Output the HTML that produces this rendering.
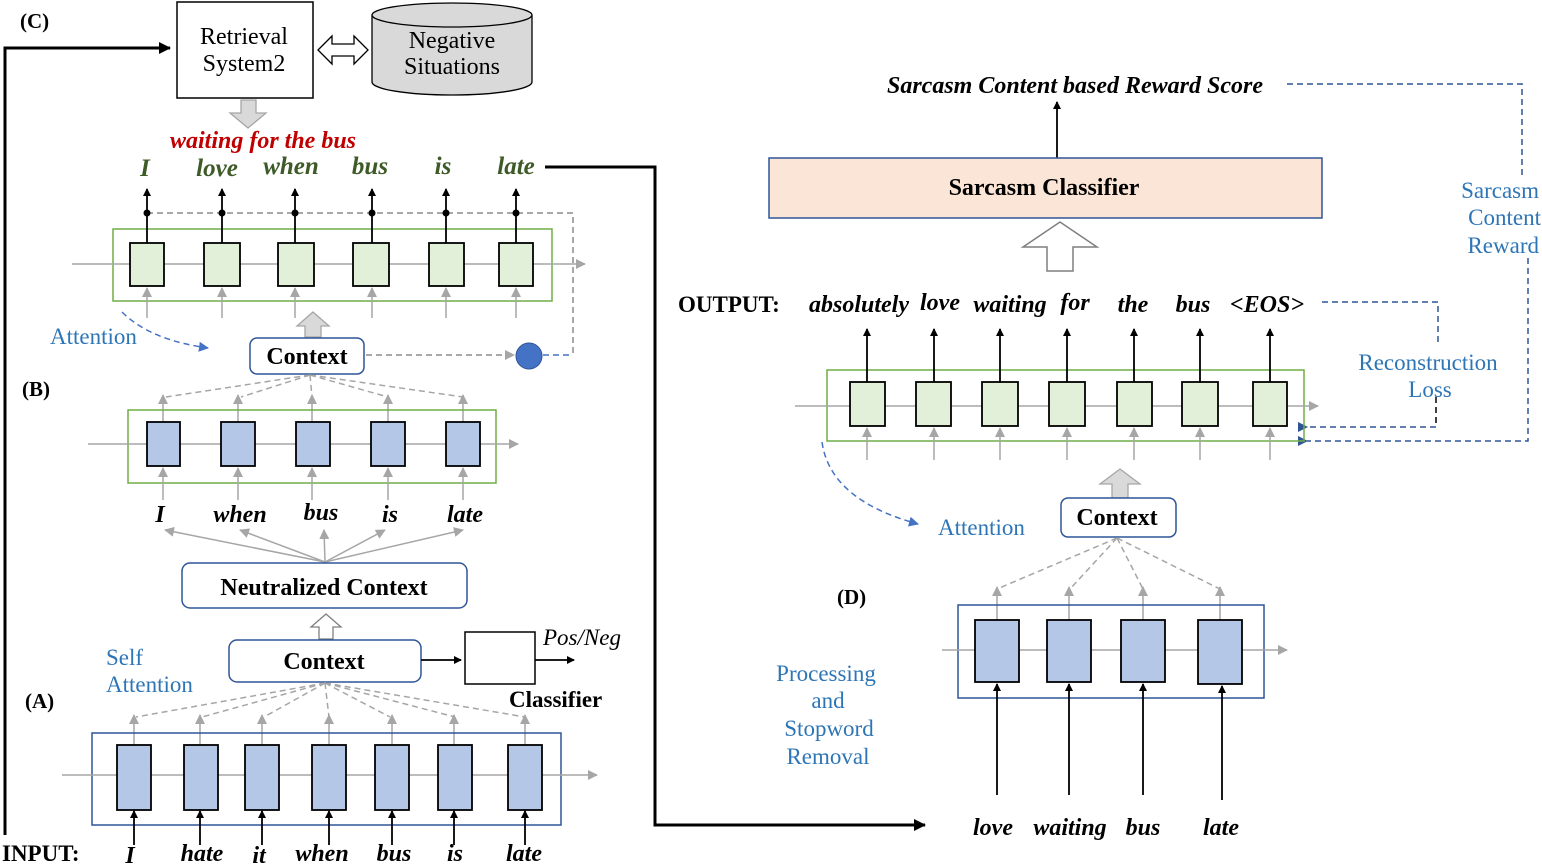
<!DOCTYPE html>
<html><head><meta charset="utf-8"><style>
html,body{margin:0;padding:0;background:#fff}
svg{display:block}
text{font-family:"Liberation Serif",serif}
.b{font-weight:bold}
.bi{font-weight:bold;font-style:italic}
.bl{fill:#2e75b6}
</style></head><body>
<svg width="1542" height="864" viewBox="0 0 1542 864" xmlns="http://www.w3.org/2000/svg">
<defs>
<marker id="ab" markerWidth="8" markerHeight="8" refX="7" refY="4" orient="auto" markerUnits="userSpaceOnUse"><path d="M0,0L8,4L0,8z" fill="#000"/></marker>
<marker id="ag" markerWidth="10" markerHeight="10" refX="9" refY="5" orient="auto" markerUnits="userSpaceOnUse"><path d="M0,0L10,5L0,10z" fill="#a6a6a6"/></marker>
<marker id="abl" markerWidth="10" markerHeight="10" refX="9" refY="5" orient="auto" markerUnits="userSpaceOnUse"><path d="M0,0L10,5L0,10z" fill="#4472c4"/></marker>
<marker id="adb" markerWidth="10" markerHeight="10" refX="1" refY="5" orient="auto" markerUnits="userSpaceOnUse"><path d="M10,0L0,5L10,10z" fill="#2f5597"/></marker>
<marker id="abig" markerWidth="12" markerHeight="12" refX="11" refY="6" orient="auto" markerUnits="userSpaceOnUse"><path d="M0,0L12,6L0,12z" fill="#000"/></marker>
</defs>

<!-- (C) -->
<text x="20" y="28" class="b" font-size="21">(C)</text>
<rect x="177" y="2" width="136" height="96" fill="#fff" stroke="#000" stroke-width="1.5"/>
<text x="244" y="44" font-size="24" text-anchor="middle">Retrieval</text>
<text x="244" y="71" font-size="24" text-anchor="middle">System2</text>
<path d="M318,50 L332,36 L332,44 L354,44 L354,36 L368,50 L354,64 L354,56 L332,56 L332,64 Z" fill="#fff" stroke="#000" stroke-width="1.3"/>
<path d="M372,15 L372,82 A80,13 0 0 0 532,82 L532,15" fill="#d9d9d9" stroke="#000" stroke-width="1.3"/>
<ellipse cx="452" cy="15" rx="80" ry="12" fill="#d9d9d9" stroke="#000" stroke-width="1.3"/>
<text x="452" y="48" font-size="24" text-anchor="middle">Negative</text>
<text x="452" y="74" font-size="24" text-anchor="middle">Situations</text>
<path d="M241,100 L256,100 L256,113 L266,113 L248,128 L230,113 L241,113 Z" fill="#d9d9d9" stroke="#a6a6a6" stroke-width="1.3"/>
<text x="263" y="148" class="bi" font-size="24" fill="#c00000" text-anchor="middle">waiting for the bus</text>

<!-- left thick connector -->
<path d="M5,835 L5,48 L170,48" fill="none" stroke="#000" stroke-width="3" marker-end="url(#abig)"/>
<path d="M545,167 L655,167 L655,825 L925,825" fill="none" stroke="#000" stroke-width="3" marker-end="url(#abig)"/>

<!-- (B) decoder -->
<g class="bi" font-size="25" fill="#3d5a27" text-anchor="middle">
<text x="145" y="176">I</text><text x="217" y="176">love</text><text x="291" y="174">when</text><text x="370" y="174">bus</text><text x="443" y="174">is</text><text x="516" y="174">late</text>
</g>
<path d="M147,213 L573,213 L573,354" fill="none" stroke="#8c8c8c" stroke-width="1.5" stroke-dasharray="6,4"/>
<rect x="113" y="229" width="439" height="72" fill="none" stroke="#70ad47" stroke-width="1.5"/>
<line x1="72" y1="264" x2="585" y2="264" stroke="#a6a6a6" stroke-width="1.5" marker-end="url(#ag)"/>
<g stroke="#a6a6a6" stroke-width="1.5" marker-end="url(#ag)">
<line x1="147" y1="318" x2="147" y2="288"/><line x1="222" y1="318" x2="222" y2="288"/><line x1="295" y1="318" x2="295" y2="288"/><line x1="372" y1="318" x2="372" y2="288"/><line x1="446" y1="318" x2="446" y2="288"/><line x1="516" y1="318" x2="516" y2="288"/>
</g>
<g fill="#e2efd9" stroke="#000" stroke-width="1.8">
<rect x="130" y="243" width="34" height="43"/><rect x="204" y="243" width="36" height="43"/><rect x="278" y="243" width="36" height="43"/><rect x="353" y="243" width="36" height="43"/><rect x="429" y="243" width="35" height="43"/><rect x="499" y="243" width="34" height="43"/>
</g>
<g stroke="#000" stroke-width="1.8" marker-end="url(#ab)">
<line x1="147" y1="243" x2="147" y2="189"/><line x1="222" y1="243" x2="222" y2="189"/><line x1="295" y1="243" x2="295" y2="189"/><line x1="372" y1="243" x2="372" y2="189"/><line x1="446" y1="243" x2="446" y2="189"/><line x1="516" y1="243" x2="516" y2="189"/>
</g>
<g fill="#000"><circle cx="147" cy="213" r="3.5"/><circle cx="222" cy="213" r="3.5"/><circle cx="295" cy="213" r="3.5"/><circle cx="372" cy="213" r="3.5"/><circle cx="446" cy="213" r="3.5"/><circle cx="516" cy="213" r="3.5"/></g>
<path d="M305,337 L305,326 L297,326 L313,312 L329,326 L321,326 L321,337 Z" fill="#d9d9d9" stroke="#a6a6a6" stroke-width="1.3"/>
<rect x="250" y="338" width="114" height="36" rx="7" fill="#fff" stroke="#2f5597" stroke-width="1.5"/>
<text x="307" y="364" class="b" font-size="24" text-anchor="middle">Context</text>
<line x1="366" y1="355" x2="514" y2="355" stroke="#8c8c8c" stroke-width="1.5" stroke-dasharray="6,4" marker-end="url(#ag)"/>
<ellipse cx="529" cy="356" rx="13" ry="13" fill="#4472c4" stroke="#2f5597"/>
<line x1="543" y1="355" x2="573" y2="355" stroke="#4472c4" stroke-width="1.5" stroke-dasharray="6,4"/>
<text x="50" y="344" font-size="23" class="bl">Attention</text>
<path d="M122,312 Q150,340 208,348" fill="none" stroke="#4472c4" stroke-width="1.5" stroke-dasharray="6,4" marker-end="url(#abl)"/>
<text x="22" y="396" class="b" font-size="21">(B)</text>

<!-- (B) encoder -->
<g stroke="#a6a6a6" stroke-width="1.5" stroke-dasharray="6,4" fill="none">
<line x1="310" y1="375" x2="166" y2="397"/><line x1="310" y1="375" x2="241" y2="397"/><line x1="310" y1="375" x2="312" y2="397"/><line x1="310" y1="375" x2="388" y2="397"/><line x1="310" y1="375" x2="463" y2="397"/>
</g>
<g stroke="#a6a6a6" stroke-width="1.5" marker-end="url(#ag)">
<line x1="163" y1="422" x2="163" y2="395"/><line x1="238" y1="422" x2="238" y2="395"/><line x1="312" y1="422" x2="312" y2="395"/><line x1="388" y1="422" x2="388" y2="395"/><line x1="463" y1="422" x2="463" y2="395"/>
</g>
<rect x="128" y="410" width="368" height="73" fill="none" stroke="#70ad47" stroke-width="1.5"/>
<line x1="88" y1="444" x2="518" y2="444" stroke="#a6a6a6" stroke-width="1.5" marker-end="url(#ag)"/>
<g stroke="#a6a6a6" stroke-width="1.5" marker-end="url(#ag)">
<line x1="163" y1="500" x2="163" y2="468"/><line x1="238" y1="500" x2="238" y2="468"/><line x1="312" y1="500" x2="312" y2="468"/><line x1="388" y1="500" x2="388" y2="468"/><line x1="463" y1="500" x2="463" y2="468"/>
</g>
<g fill="#b4c7e7" stroke="#000" stroke-width="1.8">
<rect x="147" y="422" width="33" height="44"/><rect x="221" y="422" width="34" height="44"/><rect x="296" y="422" width="34" height="44"/><rect x="371" y="422" width="34" height="44"/><rect x="446" y="422" width="34" height="44"/>
</g>
<g class="bi" font-size="24" text-anchor="middle">
<text x="160" y="522">I</text><text x="240" y="522">when</text><text x="321" y="520">bus</text><text x="390" y="522">is</text><text x="465" y="522">late</text>
</g>
<g stroke="#a6a6a6" stroke-width="1.5" marker-end="url(#ag)">
<line x1="325" y1="562" x2="165" y2="530"/><line x1="325" y1="562" x2="240" y2="530"/><line x1="325" y1="562" x2="324" y2="530"/><line x1="325" y1="562" x2="385" y2="530"/><line x1="325" y1="562" x2="463" y2="530"/>
</g>
<rect x="182" y="563" width="285" height="45" rx="8" fill="#fff" stroke="#2f5597" stroke-width="1.5"/>
<text x="324" y="595" class="b" font-size="24" text-anchor="middle">Neutralized Context</text>

<!-- (A) -->
<path d="M319,639 L319,627 L311,627 L326,614 L341,627 L333,627 L333,639 Z" fill="#fff" stroke="#7f7f7f" stroke-width="1.3"/>
<rect x="229" y="640" width="192" height="42" rx="8" fill="#fff" stroke="#2f5597" stroke-width="1.5"/>
<text x="324" y="669" class="b" font-size="24" text-anchor="middle">Context</text>
<line x1="421" y1="660" x2="461" y2="660" stroke="#000" stroke-width="1.8" marker-end="url(#ab)"/>
<rect x="465" y="632" width="70" height="52" fill="#fff" stroke="#000" stroke-width="1.5"/>
<line x1="535" y1="660" x2="574" y2="660" stroke="#000" stroke-width="1.8" marker-end="url(#ab)"/>
<text x="543" y="645" font-size="23" font-style="italic">Pos/Neg</text>
<text x="509" y="707" class="b" font-size="23">Classifier</text>
<text x="106" y="665" font-size="23" class="bl">Self</text>
<text x="106" y="692" font-size="23" class="bl">Attention</text>
<text x="25" y="708" class="b" font-size="21">(A)</text>
<g stroke="#a6a6a6" stroke-width="1.5" stroke-dasharray="6,4" fill="none">
<line x1="325" y1="683" x2="136" y2="717"/><line x1="325" y1="683" x2="202" y2="717"/><line x1="325" y1="683" x2="264" y2="717"/><line x1="325" y1="683" x2="329" y2="717"/><line x1="325" y1="683" x2="390" y2="717"/><line x1="325" y1="683" x2="455" y2="717"/><line x1="325" y1="683" x2="525" y2="717"/>
</g>
<g stroke="#a6a6a6" stroke-width="1.5" marker-end="url(#ag)">
<line x1="134" y1="745" x2="134" y2="715"/><line x1="200" y1="745" x2="200" y2="715"/><line x1="262" y1="745" x2="262" y2="715"/><line x1="329" y1="745" x2="329" y2="715"/><line x1="392" y1="745" x2="392" y2="715"/><line x1="454" y1="745" x2="454" y2="715"/><line x1="525" y1="745" x2="525" y2="715"/>
</g>
<rect x="92" y="733" width="469" height="92" fill="none" stroke="#2f5597" stroke-width="1.5"/>
<line x1="62" y1="775" x2="597" y2="775" stroke="#a6a6a6" stroke-width="1.5" marker-end="url(#ag)"/>
<g fill="#b4c7e7" stroke="#000" stroke-width="1.8">
<rect x="117" y="745" width="34" height="65"/><rect x="184" y="745" width="34" height="65"/><rect x="245" y="745" width="34" height="65"/><rect x="312" y="745" width="34" height="65"/><rect x="375" y="745" width="34" height="65"/><rect x="438" y="745" width="34" height="65"/><rect x="508" y="745" width="34" height="65"/>
</g>
<g stroke="#000" stroke-width="1.8" marker-end="url(#ab)">
<line x1="134" y1="845" x2="134" y2="811"/><line x1="200" y1="845" x2="200" y2="811"/><line x1="262" y1="845" x2="262" y2="811"/><line x1="329" y1="845" x2="329" y2="811"/><line x1="392" y1="845" x2="392" y2="811"/><line x1="454" y1="845" x2="454" y2="811"/><line x1="525" y1="845" x2="525" y2="811"/>
</g>
<text x="2" y="861" class="b" font-size="23">INPUT:</text>
<g class="bi" font-size="24" text-anchor="middle">
<text x="130" y="863">I</text><text x="202" y="861">hate</text><text x="259" y="863">it</text><text x="322" y="861">when</text><text x="394" y="861">bus</text><text x="455" y="861">is</text><text x="524" y="861">late</text>
</g>

<!-- Right: classifier -->
<text x="1075" y="93" class="bi" font-size="24" text-anchor="middle">Sarcasm Content based Reward Score</text>
<line x1="1057" y1="158" x2="1057" y2="102" stroke="#000" stroke-width="1.8" marker-end="url(#ab)"/>
<rect x="769" y="158" width="553" height="60" fill="#fbe5d6" stroke="#2f5597" stroke-width="1.5"/>
<text x="1044" y="195" class="b" font-size="24" text-anchor="middle">Sarcasm Classifier</text>
<path d="M1047,271 L1047,247 L1023,247 L1060,222 L1097,247 L1073,247 L1073,271 Z" fill="#fff" stroke="#7f7f7f" stroke-width="1.5"/>
<path d="M1287,84 L1522,84 L1522,178" fill="none" stroke="#2f5597" stroke-width="1.5" stroke-dasharray="6,4"/>
<path d="M1528,258 L1528,441 L1307,441" fill="none" stroke="#2f5597" stroke-width="1.5" stroke-dasharray="6,4" marker-end="url(#adb)"/>
<g font-size="23" class="bl" text-anchor="end">
<text x="1539" y="198">Sarcasm</text><text x="1541" y="225">Content</text><text x="1539" y="253">Reward</text>
</g>

<!-- Output decoder -->
<text x="678" y="312" class="b" font-size="23">OUTPUT:</text>
<g class="bi" font-size="24" text-anchor="middle">
<text x="859" y="312">absolutely</text><text x="940" y="310">love</text><text x="1010" y="312">waiting</text><text x="1075" y="310">for</text><text x="1133" y="312">the</text><text x="1193" y="312">bus</text><text x="1267" y="312">&lt;EOS&gt;</text>
</g>
<path d="M1322,302 L1438,302 L1438,344" fill="none" stroke="#2f5597" stroke-width="1.5" stroke-dasharray="6,4"/>
<path d="M1436,397 L1436,427" fill="none" stroke="#000" stroke-width="1.5" stroke-dasharray="6,4"/>
<path d="M1436,427 L1307,427" fill="none" stroke="#2f5597" stroke-width="1.5" stroke-dasharray="6,4" marker-end="url(#adb)"/>
<text x="1428" y="370" font-size="23" class="bl" text-anchor="middle">Reconstruction</text>
<text x="1430" y="397" font-size="23" class="bl" text-anchor="middle">Loss</text>
<rect x="827" y="370" width="477" height="71" fill="none" stroke="#70ad47" stroke-width="1.5"/>
<line x1="795" y1="406" x2="1318" y2="406" stroke="#a6a6a6" stroke-width="1.5" marker-end="url(#ag)"/>
<g stroke="#a6a6a6" stroke-width="1.5" marker-end="url(#ag)">
<line x1="867" y1="460" x2="867" y2="428"/><line x1="934" y1="460" x2="934" y2="428"/><line x1="1000" y1="460" x2="1000" y2="428"/><line x1="1067" y1="460" x2="1067" y2="428"/><line x1="1134" y1="460" x2="1134" y2="428"/><line x1="1200" y1="460" x2="1200" y2="428"/><line x1="1270" y1="460" x2="1270" y2="428"/>
</g>
<g fill="#e2efd9" stroke="#000" stroke-width="1.8">
<rect x="850" y="382" width="35" height="44"/><rect x="916" y="382" width="35" height="44"/><rect x="982" y="382" width="36" height="44"/><rect x="1049" y="382" width="36" height="44"/><rect x="1117" y="382" width="35" height="44"/><rect x="1182" y="382" width="36" height="44"/><rect x="1253" y="382" width="34" height="44"/>
</g>
<g stroke="#000" stroke-width="1.8" marker-end="url(#ab)">
<line x1="867" y1="382" x2="867" y2="329"/><line x1="934" y1="382" x2="934" y2="329"/><line x1="1000" y1="382" x2="1000" y2="329"/><line x1="1067" y1="382" x2="1067" y2="329"/><line x1="1134" y1="382" x2="1134" y2="329"/><line x1="1200" y1="382" x2="1200" y2="329"/><line x1="1270" y1="382" x2="1270" y2="329"/>
</g>
<path d="M822,442 Q830,500 918,524" fill="none" stroke="#4472c4" stroke-width="1.5" stroke-dasharray="6,4" marker-end="url(#abl)"/>
<text x="938" y="535" font-size="23" class="bl">Attention</text>
<path d="M1112,498 L1112,484 L1100,484 L1120,469 L1140,484 L1128,484 L1128,498 Z" fill="#d9d9d9" stroke="#a6a6a6" stroke-width="1.3"/>
<rect x="1061" y="498" width="115" height="39" rx="7" fill="#fff" stroke="#2f5597" stroke-width="1.5"/>
<text x="1117" y="525" class="b" font-size="24" text-anchor="middle">Context</text>

<!-- (D) -->
<text x="837" y="604" class="b" font-size="21">(D)</text>
<g stroke="#a6a6a6" stroke-width="1.5" stroke-dasharray="6,4" fill="none">
<line x1="1117" y1="538" x2="997" y2="589"/><line x1="1117" y1="538" x2="1070" y2="589"/><line x1="1117" y1="538" x2="1143" y2="589"/><line x1="1117" y1="538" x2="1220" y2="589"/>
</g>
<g stroke="#a6a6a6" stroke-width="1.5" marker-end="url(#ag)">
<line x1="997" y1="620" x2="997" y2="587"/><line x1="1069" y1="620" x2="1069" y2="587"/><line x1="1143" y1="620" x2="1143" y2="587"/><line x1="1220" y1="620" x2="1220" y2="587"/>
</g>
<rect x="958" y="605" width="306" height="93" fill="none" stroke="#2f5597" stroke-width="1.5"/>
<line x1="942" y1="650" x2="1287" y2="650" stroke="#a6a6a6" stroke-width="1.5" marker-end="url(#ag)"/>
<g fill="#b4c7e7" stroke="#000" stroke-width="1.8">
<rect x="975" y="620" width="44" height="62"/><rect x="1047" y="620" width="44" height="62"/><rect x="1121" y="620" width="44" height="62"/><rect x="1198" y="620" width="44" height="64"/>
</g>
<g stroke="#000" stroke-width="1.8" marker-end="url(#ab)">
<line x1="997" y1="795" x2="997" y2="684"/><line x1="1069" y1="795" x2="1069" y2="684"/><line x1="1143" y1="795" x2="1143" y2="684"/><line x1="1222" y1="800" x2="1222" y2="686"/>
</g>
<g font-size="23" class="bl" text-anchor="middle">
<text x="826" y="681">Processing</text><text x="828" y="708">and</text><text x="829" y="736">Stopword</text><text x="828" y="764">Removal</text>
</g>
<g font-size="24" font-style="italic" font-weight="bold" text-anchor="middle">
<text x="993" y="835">love</text><text x="1070" y="835">waiting</text><text x="1143" y="835">bus</text><text x="1221" y="835">late</text>
</g>
</svg>
</body></html>
